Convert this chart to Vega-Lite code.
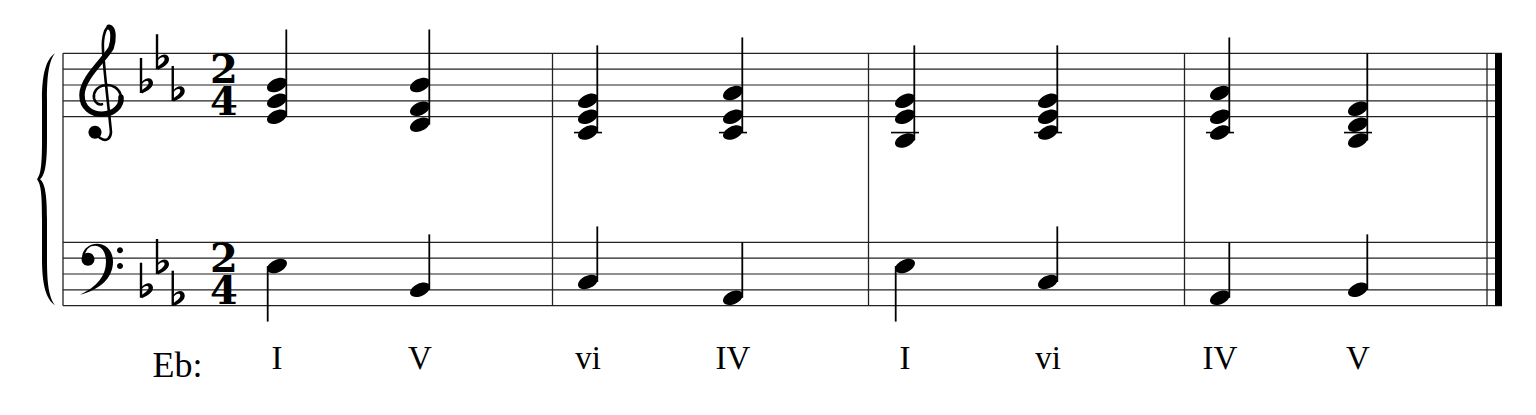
{
  "$schema": "https://vega.github.io/schema/vega-lite/v6.json",
  "width": 1536,
  "height": 415,
  "padding": 0,
  "autosize": {"type": "none"},
  "background": "white",
  "config": {"view": {"stroke": null}},
  "datasets": {
    "notes": [
      {"pos": 0, "staff": "treble", "pitch": "Eb4", "step": 30},
      {"pos": 0, "staff": "treble", "pitch": "G4", "step": 32},
      {"pos": 0, "staff": "treble", "pitch": "Bb4", "step": 34},
      {"pos": 0, "staff": "bass", "pitch": "Eb3", "step": 23},
      {"pos": 1, "staff": "treble", "pitch": "D4", "step": 29},
      {"pos": 1, "staff": "treble", "pitch": "F4", "step": 31},
      {"pos": 1, "staff": "treble", "pitch": "Bb4", "step": 34},
      {"pos": 1, "staff": "bass", "pitch": "Bb2", "step": 20},
      {"pos": 2, "staff": "treble", "pitch": "C4", "step": 28},
      {"pos": 2, "staff": "treble", "pitch": "Eb4", "step": 30},
      {"pos": 2, "staff": "treble", "pitch": "G4", "step": 32},
      {"pos": 2, "staff": "bass", "pitch": "C3", "step": 21},
      {"pos": 3, "staff": "treble", "pitch": "C4", "step": 28},
      {"pos": 3, "staff": "treble", "pitch": "Eb4", "step": 30},
      {"pos": 3, "staff": "treble", "pitch": "Ab4", "step": 33},
      {"pos": 3, "staff": "bass", "pitch": "Ab2", "step": 19},
      {"pos": 4, "staff": "treble", "pitch": "Bb3", "step": 27},
      {"pos": 4, "staff": "treble", "pitch": "Eb4", "step": 30},
      {"pos": 4, "staff": "treble", "pitch": "G4", "step": 32},
      {"pos": 4, "staff": "bass", "pitch": "Eb3", "step": 23},
      {"pos": 5, "staff": "treble", "pitch": "C4", "step": 28},
      {"pos": 5, "staff": "treble", "pitch": "Eb4", "step": 30},
      {"pos": 5, "staff": "treble", "pitch": "G4", "step": 32},
      {"pos": 5, "staff": "bass", "pitch": "C3", "step": 21},
      {"pos": 6, "staff": "treble", "pitch": "C4", "step": 28},
      {"pos": 6, "staff": "treble", "pitch": "Eb4", "step": 30},
      {"pos": 6, "staff": "treble", "pitch": "Ab4", "step": 33},
      {"pos": 6, "staff": "bass", "pitch": "Ab2", "step": 19},
      {"pos": 7, "staff": "treble", "pitch": "Bb3", "step": 27},
      {"pos": 7, "staff": "treble", "pitch": "D4", "step": 29},
      {"pos": 7, "staff": "treble", "pitch": "F4", "step": 31},
      {"pos": 7, "staff": "bass", "pitch": "Bb2", "step": 20}
    ],
    "chords": [
      {"pos": 0, "numeral": "I"},
      {"pos": 1, "numeral": "V"},
      {"pos": 2, "numeral": "vi"},
      {"pos": 3, "numeral": "IV"},
      {"pos": 4, "numeral": "I"},
      {"pos": 5, "numeral": "vi"},
      {"pos": 6, "numeral": "IV"},
      {"pos": 7, "numeral": "V"}
    ],
    "lines": [
      {"staff": "treble", "step": 30},
      {"staff": "treble", "step": 32},
      {"staff": "treble", "step": 34},
      {"staff": "treble", "step": 36},
      {"staff": "treble", "step": 38},
      {"staff": "bass", "step": 18},
      {"staff": "bass", "step": 20},
      {"staff": "bass", "step": 22},
      {"staff": "bass", "step": 24},
      {"staff": "bass", "step": 26}
    ],
    "bars": [
      {"pos": -1.4965, "type": "system"},
      {"pos": 1.7887, "type": "single"},
      {"pos": 3.7878, "type": "single"},
      {"pos": 5.7936, "type": "single"},
      {"pos": 7.9348, "type": "final"}
    ],
    "signs": [
      {"staff": "treble", "sign": "clef", "pos": -1.2308, "step": 32},
      {"staff": "bass", "sign": "clef", "pos": -1.2517, "step": 24},
      {"staff": "treble", "sign": "flat", "pos": -0.951, "step": 34},
      {"staff": "treble", "sign": "flat", "pos": -0.839, "step": 37},
      {"staff": "treble", "sign": "flat", "pos": -0.729, "step": 33},
      {"staff": "bass", "sign": "flat", "pos": -0.951, "step": 20},
      {"staff": "bass", "sign": "flat", "pos": -0.839, "step": 23},
      {"staff": "bass", "sign": "flat", "pos": -0.729, "step": 19},
      {"staff": "treble", "sign": "time", "pos": -0.371, "step": 34, "text": ["2", "4"]},
      {"staff": "bass", "sign": "time", "pos": -0.371, "step": 22, "text": ["2", "4"]}
    ]
  },
  "layer": [
    {
      "data": {"name": "lines"},
      "mark": {"type": "rule", "color": "#222", "strokeWidth": 1.2},
      "encoding": {
        "x": {"datum": -1.4965, "type": "quantitative", "axis": null, "scale": {"domain": [0, 1, 2, 3, 4, 5, 6, 7], "range": [277, 420, 588, 733, 905, 1048, 1220, 1358], "nice": false, "zero": false}},
        "x2": {"datum": 8.0435},
        "y": {"field": "step", "type": "quantitative", "axis": null, "scale": {"domain": [18, 26, 27, 38], "range": [305.7, 242.3, 140.5, 53.3], "nice": false, "zero": false}}
      }
    },
    {
      "data": {"name": "bars"},
      "mark": {"type": "rule", "color": "#222", "strokeWidth": 1.3},
      "encoding": {
        "x": {"field": "pos", "type": "quantitative", "axis": null, "scale": {"domain": [0, 1, 2, 3, 4, 5, 6, 7], "range": [277, 420, 588, 733, 905, 1048, 1220, 1358], "nice": false, "zero": false}},
        "y": {"datum": 38, "type": "quantitative", "axis": null, "scale": {"domain": [18, 26, 27, 38], "range": [305.7, 242.3, 140.5, 53.3], "nice": false, "zero": false}},
        "y2": {"datum": 18}
      }
    },
    {
      "data": {"name": "bars"},
      "transform": [{"filter": "datum.type == 'final'"}],
      "mark": {"type": "rule", "color": "black", "strokeWidth": 7, "xOffset": 11.5},
      "encoding": {
        "x": {"field": "pos", "type": "quantitative", "axis": null, "scale": {"domain": [0, 1, 2, 3, 4, 5, 6, 7], "range": [277, 420, 588, 733, 905, 1048, 1220, 1358], "nice": false, "zero": false}},
        "y": {"datum": 38, "type": "quantitative", "axis": null, "scale": {"domain": [18, 26, 27, 38], "range": [305.7, 242.3, 140.5, 53.3], "nice": false, "zero": false}},
        "y2": {"datum": 18}
      }
    },
    {
      "data": {"values": [{"system": "piano"}]},
      "mark": {
        "type": "point",
        "filled": true,
        "opacity": 1,
        "color": "black",
        "size": 4,
        "shape": "M 9 -126 C 0 -120 -4 -105 -4 -80 L -4 -40 C -4 -15 -5 -5 -9 0 C -5 5 -4 15 -4 40 L -4 80 C -4 105 0 120 9 126 C 3 118 1 105 1 80 L 1 40 C 1 15 -1 4 -6 0 C -1 -4 1 -15 1 -40 L 1 -80 C 1 -105 3 -118 9 -126 Z"
      },
      "encoding": {
        "x": {"datum": -1.6154, "type": "quantitative", "axis": null, "scale": {"domain": [0, 1, 2, 3, 4, 5, 6, 7], "range": [277, 420, 588, 733, 905, 1048, 1220, 1358], "nice": false, "zero": false}},
        "y": {"datum": 26.62, "type": "quantitative", "axis": null, "scale": {"domain": [18, 26, 27, 38], "range": [305.7, 242.3, 140.5, 53.3], "nice": false, "zero": false}}
      }
    },
    {
      "data": {"name": "signs"},
      "transform": [{"filter": "datum.sign == 'clef' && datum.staff == 'treble'"}],
      "mark": {
        "type": "point",
        "filled": false,
        "opacity": 1,
        "color": "black",
        "size": 4,
        "strokeWidth": 2.6,
        "strokeCap": "round",
        "shape": "M -6 27.3 C -5 39.3 9 44.3 10 31.3 C 8 9.3 3 -30.7 2 -50.7 C 1 -65.7 5 -73.7 8 -73.7 C 13 -72.7 13 -60.7 10 -52.7 C 3 -40.7 -19 -22.7 -19 -5.7 C -19 7.3 -9 13.3 1 13.3 C 13 13.3 21 5.3 20 -3.7 C 19 -12.7 11 -16.7 4 -15.7 C -4 -14.7 -8 -8.7 -7 -2.7 C -6 2.3 -2 4.3 1 3.3"
      },
      "encoding": {
        "x": {"field": "pos", "type": "quantitative", "axis": null, "scale": {"domain": [0, 1, 2, 3, 4, 5, 6, 7], "range": [277, 420, 588, 733, 905, 1048, 1220, 1358], "nice": false, "zero": false}},
        "y": {"field": "step", "type": "quantitative", "axis": null, "scale": {"domain": [18, 26, 27, 38], "range": [305.7, 242.3, 140.5, 53.3], "nice": false, "zero": false}}
      }
    },
    {
      "data": {"name": "signs"},
      "transform": [{"filter": "datum.sign == 'clef' && datum.staff == 'treble'"}],
      "mark": {
        "type": "point",
        "filled": false,
        "opacity": 1,
        "color": "black",
        "size": 4,
        "strokeWidth": 5.5,
        "strokeCap": "round",
        "shape": "M 8 -73.7 C 13 -72.7 13 -60.7 10 -52.7 C 3 -40.7 -19 -22.7 -19 -5.7 C -19 7.3 -9 13.3 1 13.3 C 13 13.3 21 5.3 20 -3.7"
      },
      "encoding": {
        "x": {"field": "pos", "type": "quantitative", "axis": null, "scale": {"domain": [0, 1, 2, 3, 4, 5, 6, 7], "range": [277, 420, 588, 733, 905, 1048, 1220, 1358], "nice": false, "zero": false}},
        "y": {"field": "step", "type": "quantitative", "axis": null, "scale": {"domain": [18, 26, 27, 38], "range": [305.7, 242.3, 140.5, 53.3], "nice": false, "zero": false}}
      }
    },
    {
      "data": {"name": "signs"},
      "transform": [{"filter": "datum.sign == 'clef' && datum.staff == 'treble'"}],
      "mark": {
        "type": "point",
        "filled": true,
        "opacity": 1,
        "color": "black",
        "size": 4,
        "shape": "M -12.5 31.3 A 6.5 6.5 0 1 1 0.5 31.3 A 6.5 6.5 0 1 1 -12.5 31.3 Z"
      },
      "encoding": {
        "x": {"field": "pos", "type": "quantitative", "axis": null, "scale": {"domain": [0, 1, 2, 3, 4, 5, 6, 7], "range": [277, 420, 588, 733, 905, 1048, 1220, 1358], "nice": false, "zero": false}},
        "y": {"field": "step", "type": "quantitative", "axis": null, "scale": {"domain": [18, 26, 27, 38], "range": [305.7, 242.3, 140.5, 53.3], "nice": false, "zero": false}}
      }
    },
    {
      "data": {"name": "signs"},
      "transform": [{"filter": "datum.sign == 'clef' && datum.staff == 'bass'"}],
      "mark": {
        "type": "point",
        "filled": true,
        "opacity": 1,
        "color": "black",
        "size": 4,
        "shape": "M -16 -0.3 C -16 -9.3 -8 -14.3 -1 -14.3 C 9 -14.3 15 -6.3 15 3.7 C 15 19.7 2 31.7 -18 36.7 C -1 28.7 8 17.7 8 3.7 C 8 -6.3 3 -12.3 -3 -12.3 C -8 -12.3 -11 -9.3 -12 -6.3 Z M -16.5 1.2 A 6.5 6.5 0 1 1 -3.5 1.2 A 6.5 6.5 0 1 1 -16.5 1.2 Z M 19 -8 A 3 3 0 1 1 25 -8 A 3 3 0 1 1 19 -8 Z M 19 7.9 A 3 3 0 1 1 25 7.9 A 3 3 0 1 1 19 7.9 Z"
      },
      "encoding": {
        "x": {"field": "pos", "type": "quantitative", "axis": null, "scale": {"domain": [0, 1, 2, 3, 4, 5, 6, 7], "range": [277, 420, 588, 733, 905, 1048, 1220, 1358], "nice": false, "zero": false}},
        "y": {"field": "step", "type": "quantitative", "axis": null, "scale": {"domain": [18, 26, 27, 38], "range": [305.7, 242.3, 140.5, 53.3], "nice": false, "zero": false}}
      }
    },
    {
      "data": {"name": "signs"},
      "transform": [{"filter": "datum.sign == 'flat'"}],
      "mark": {
        "type": "point",
        "filled": true,
        "opacity": 1,
        "color": "black",
        "size": 4,
        "shape": "M -1.2 -27 L 1.2 -27 L 1.2 8 L -1.2 8 Z M 1 -3 C 5 -8.5 12 -7.5 12 -2 C 12 3 6 6 1 8.5 L 1 5 C 4 3 8 0 7.5 -2.5 C 7 -5 3 -4 1 -1 Z"
      },
      "encoding": {
        "x": {"field": "pos", "type": "quantitative", "axis": null, "scale": {"domain": [0, 1, 2, 3, 4, 5, 6, 7], "range": [277, 420, 588, 733, 905, 1048, 1220, 1358], "nice": false, "zero": false}},
        "y": {"field": "step", "type": "quantitative", "axis": null, "scale": {"domain": [18, 26, 27, 38], "range": [305.7, 242.3, 140.5, 53.3], "nice": false, "zero": false}}
      }
    },
    {
      "data": {"name": "signs"},
      "transform": [{"filter": "datum.sign == 'time'"}],
      "mark": {
        "type": "text",
        "font": "DejaVu Serif",
        "fontWeight": "bold",
        "fontSize": 40,
        "lineHeight": 31.7,
        "align": "center",
        "baseline": "middle",
        "dy": -14,
        "color": "black"
      },
      "encoding": {
        "x": {"field": "pos", "type": "quantitative", "axis": null, "scale": {"domain": [0, 1, 2, 3, 4, 5, 6, 7], "range": [277, 420, 588, 733, 905, 1048, 1220, 1358], "nice": false, "zero": false}},
        "y": {"field": "step", "type": "quantitative", "axis": null, "scale": {"domain": [18, 26, 27, 38], "range": [305.7, 242.3, 140.5, 53.3], "nice": false, "zero": false}},
        "text": {"field": "text"}
      }
    },
    {
      "data": {"name": "notes"},
      "transform": [{"filter": "datum.staff == 'treble' && datum.step <= 28"}],
      "mark": {
        "type": "point",
        "filled": false,
        "opacity": 1,
        "color": "black",
        "size": 4,
        "strokeWidth": 1.6,
        "shape": "M -14 0 L 14 0"
      },
      "encoding": {
        "x": {"field": "pos", "type": "quantitative", "axis": null, "scale": {"domain": [0, 1, 2, 3, 4, 5, 6, 7], "range": [277, 420, 588, 733, 905, 1048, 1220, 1358], "nice": false, "zero": false}},
        "y": {"datum": 28, "type": "quantitative", "axis": null, "scale": {"domain": [18, 26, 27, 38], "range": [305.7, 242.3, 140.5, 53.3], "nice": false, "zero": false}}
      }
    },
    {
      "data": {"name": "notes"},
      "transform": [
        {"filter": "datum.staff == 'treble'"},
        {
          "aggregate": [
            {"op": "min", "field": "step", "as": "lo"},
            {"op": "max", "field": "step", "as": "hi"}
          ],
          "groupby": ["pos"]
        }
      ],
      "mark": {"type": "rule", "color": "black", "strokeWidth": 1.8, "xOffset": 9.3, "y2Offset": -55.5},
      "encoding": {
        "x": {"field": "pos", "type": "quantitative", "axis": null, "scale": {"domain": [0, 1, 2, 3, 4, 5, 6, 7], "range": [277, 420, 588, 733, 905, 1048, 1220, 1358], "nice": false, "zero": false}},
        "y": {"field": "lo", "type": "quantitative", "axis": null, "scale": {"domain": [18, 26, 27, 38], "range": [305.7, 242.3, 140.5, 53.3], "nice": false, "zero": false}},
        "y2": {"field": "hi"}
      }
    },
    {
      "data": {"name": "notes"},
      "transform": [{"filter": "datum.staff == 'bass' && datum.step < 22"}],
      "mark": {"type": "rule", "color": "black", "strokeWidth": 1.8, "xOffset": 9.3, "y2Offset": -55.5},
      "encoding": {
        "x": {"field": "pos", "type": "quantitative", "axis": null, "scale": {"domain": [0, 1, 2, 3, 4, 5, 6, 7], "range": [277, 420, 588, 733, 905, 1048, 1220, 1358], "nice": false, "zero": false}},
        "y": {"field": "step", "type": "quantitative", "axis": null, "scale": {"domain": [18, 26, 27, 38], "range": [305.7, 242.3, 140.5, 53.3], "nice": false, "zero": false}},
        "y2": {"field": "step"}
      }
    },
    {
      "data": {"name": "notes"},
      "transform": [{"filter": "datum.staff == 'bass' && datum.step >= 22"}],
      "mark": {"type": "rule", "color": "black", "strokeWidth": 1.8, "xOffset": -9.3, "y2Offset": 55.5},
      "encoding": {
        "x": {"field": "pos", "type": "quantitative", "axis": null, "scale": {"domain": [0, 1, 2, 3, 4, 5, 6, 7], "range": [277, 420, 588, 733, 905, 1048, 1220, 1358], "nice": false, "zero": false}},
        "y": {"field": "step", "type": "quantitative", "axis": null, "scale": {"domain": [18, 26, 27, 38], "range": [305.7, 242.3, 140.5, 53.3], "nice": false, "zero": false}},
        "y2": {"field": "step"}
      }
    },
    {
      "data": {"name": "notes"},
      "mark": {
        "type": "point",
        "filled": true,
        "opacity": 1,
        "color": "black",
        "size": 4,
        "shape": "M -9.6 4.5 A 10.6 6.3 -25 1 1 9.6 -4.5 A 10.6 6.3 -25 1 1 -9.6 4.5 Z"
      },
      "encoding": {
        "x": {"field": "pos", "type": "quantitative", "axis": null, "scale": {"domain": [0, 1, 2, 3, 4, 5, 6, 7], "range": [277, 420, 588, 733, 905, 1048, 1220, 1358], "nice": false, "zero": false}},
        "y": {"field": "step", "type": "quantitative", "axis": null, "scale": {"domain": [18, 26, 27, 38], "range": [305.7, 242.3, 140.5, 53.3], "nice": false, "zero": false}}
      }
    },
    {
      "data": {"name": "chords"},
      "mark": {
        "type": "text",
        "font": "Liberation Serif",
        "fontSize": 33,
        "align": "center",
        "baseline": "alphabetic",
        "color": "black"
      },
      "encoding": {
        "x": {"field": "pos", "type": "quantitative", "axis": null, "scale": {"domain": [0, 1, 2, 3, 4, 5, 6, 7], "range": [277, 420, 588, 733, 905, 1048, 1220, 1358], "nice": false, "zero": false}},
        "y": {"datum": 10, "type": "quantitative", "axis": null, "scale": {"domain": [18, 26, 27, 38], "range": [305.7, 242.3, 140.5, 53.3], "nice": false, "zero": false}},
        "text": {"field": "numeral"}
      }
    },
    {
      "data": {"values": [{"key": "Eb:"}]},
      "mark": {
        "type": "text",
        "font": "Liberation Serif",
        "fontSize": 36,
        "align": "center",
        "baseline": "alphabetic",
        "color": "black"
      },
      "encoding": {
        "x": {"datum": -0.696, "type": "quantitative", "axis": null, "scale": {"domain": [0, 1, 2, 3, 4, 5, 6, 7], "range": [277, 420, 588, 733, 905, 1048, 1220, 1358], "nice": false, "zero": false}},
        "y": {"datum": 9, "type": "quantitative", "axis": null, "scale": {"domain": [18, 26, 27, 38], "range": [305.7, 242.3, 140.5, 53.3], "nice": false, "zero": false}},
        "text": {"field": "key"}
      }
    }
  ]
}
